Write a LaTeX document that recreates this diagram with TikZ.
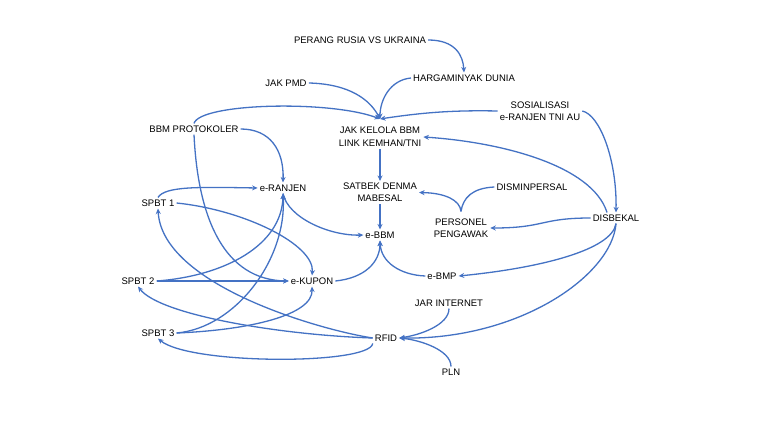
\documentclass[tikz,border=0pt]{standalone}
\usepackage{fontspec}
\setmainfont{Liberation Sans}
\usetikzlibrary{arrows.meta}
\definecolor{lnk}{RGB}{68,114,196}
\begin{document}
\begin{tikzpicture}[x=1pt,y=1pt,
  lbl/.style={font=\fontsize{9.5}{12}\selectfont, align=center, inner sep=2pt},
  arr/.style={draw=lnk, line width=1.3pt, -{Stealth[length=5.5pt,width=5pt]}},
  ln/.style={draw=lnk, line width=1.3pt}]
\fill[white] (0,0) rectangle (768,-433);
\useasboundingbox (0,0) rectangle (768,-433);

\node[lbl] (perang) at (360,-40) {PERANG RUSIA VS UKRAINA};
\node[lbl] (harga) at (464,-78) {HARGAMINYAK DUNIA};
\node[lbl] (jakpmd) at (286,-83) {JAK PMD};
\node[lbl] (sos) at (540,-111) {SOSIALISASI\\e-RANJEN TNI AU};
\node[lbl] (protok) at (194,-129) {BBM PROTOKOLER};
\node[lbl, font=\fontsize{9.5}{13}\selectfont] (jak) at (380,-137) {JAK KELOLA BBM\\LINK KEMHAN/TNI};
\node[lbl] (eranjen) at (283,-188) {e-RANJEN};
\node[lbl] (satbek) at (380,-192.5) {SATBEK DENMA\\MABESAL};
\node[lbl] (dismin) at (532,-187) {DISMINPERSAL};
\node[lbl] (spbt1) at (158,-203) {SPBT 1};
\node[lbl] (pers) at (461,-228) {PERSONEL\\PENGAWAK};
\node[lbl] (disbekal) at (616,-218) {DISBEKAL};
\node[lbl] (ebbm) at (380,-235) {e-BBM};
\node[lbl] (ebmp) at (442,-276) {e-BMP};
\node[lbl] (spbt2) at (138,-281) {SPBT 2};
\node[lbl] (ekupon) at (312,-281) {e-KUPON};
\node[lbl] (jar) at (449,-303) {JAR INTERNET};
\node[lbl] (spbt3) at (158,-333) {SPBT 3};
\node[lbl] (rfid) at (386,-338) {RFID};
\node[lbl] (pln) at (451,-372) {PLN};

\coordinate (jaktop) at ([yshift=6pt]jak.north);
\coordinate (persv) at ([yshift=5pt]pers.north);
\coordinate (disnw) at ([xshift=-9pt]disbekal.north);

\draw[arr] (perang.east) .. controls (455,-40) and (463,-55) .. (harga.north);
\draw[arr] (harga.west) .. controls (390,-80) and (380,-100) .. (jaktop);
\draw[arr] (jakpmd.east) .. controls (350,-84) and (370,-100) .. (jaktop);
\draw[arr] (protok.north) .. controls (200,-103) and (330,-100) .. (jaktop);
\draw[arr] (sos.west) .. controls (450,-110) and (420,-113) .. (jaktop);
\draw[arr] (sos.east) .. controls (600,-115) and (617,-160) .. (disbekal.north);
\draw[arr] (disnw) .. controls (592,-165) and (500,-142) .. (jak.east);
\draw[arr] (jak) -- (satbek);
\draw[arr] (satbek) -- (ebbm);
\draw[ln] (dismin.west) .. controls (472,-188) and (463,-198) .. (persv);
\draw[arr] (persv) .. controls (460,-200) and (445,-193) .. (satbek.east);
\draw[arr] (disbekal.west) .. controls (540,-218) and (545,-228) .. (pers.east);
\draw[arr] (disbekal.south) .. controls (612,-250) and (540,-268) .. (ebmp.east);
\draw[arr] (disbekal.south) .. controls (612,-275) and (520,-340) .. (rfid.east);
\draw[arr] (ebmp.west) .. controls (400,-275) and (381,-262) .. (ebbm.south);
\draw[arr] (ekupon.east) .. controls (365,-278) and (380,-262) .. (ebbm.south);
\draw[arr] (eranjen.south) .. controls (288,-218) and (330,-236) .. (ebbm.west);
\draw[arr] (protok.east) .. controls (270,-129) and (284,-150) .. (eranjen.north);
\draw[arr] (protok.south) .. controls (198,-220) and (225,-280) .. (ekupon.west);
\draw[arr] (spbt1.north) .. controls (165,-186) and (200,-187) .. (eranjen.west);
\draw[arr] (spbt1.east) .. controls (245,-210) and (315,-245) .. (ekupon.north);
\draw[arr] (spbt2.east) .. controls (225,-276) and (282,-245) .. (eranjen.south);
\draw[arr] (spbt2.east) -- (ekupon.west);
\draw[arr] (spbt3.east) .. controls (235,-328) and (287,-260) .. (eranjen.south);
\draw[arr] (spbt3.east) .. controls (250,-330) and (313,-315) .. (ekupon.south);
\draw[arr] (rfid.west) .. controls (320,-330) and (162,-285) .. (spbt1.south);
\draw[arr] (rfid.west) .. controls (280,-335) and (160,-315) .. (spbt2.south);
\draw[arr] (rfid.south west) .. controls (370,-365) and (190,-365) .. (spbt3.south);
\draw[arr] (jar.south) .. controls (449,-325) and (420,-335) .. (rfid.east);
\draw[arr] (pln.north) .. controls (451,-350) and (420,-340) .. (rfid.east);
\end{tikzpicture}
\end{document}
